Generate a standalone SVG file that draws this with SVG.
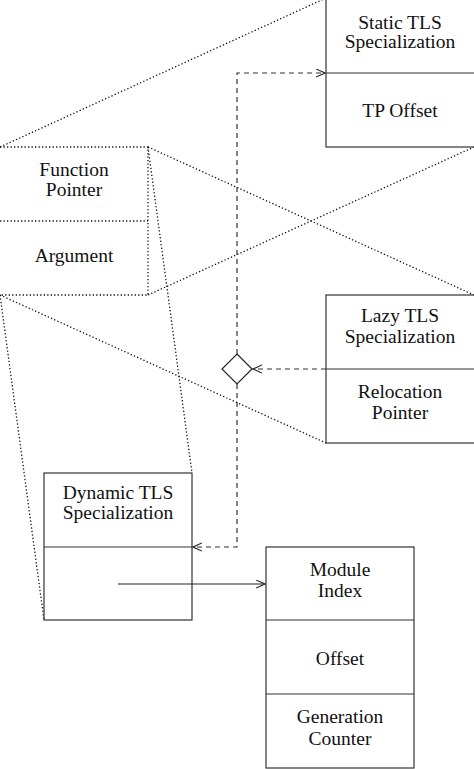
<svg xmlns="http://www.w3.org/2000/svg" width="474" height="769" viewBox="0 0 474 769">
<style>
  .box { fill: none; stroke: #333; stroke-width: 1.2; }
  .dot { fill: none; stroke: #111; stroke-width: 1.3; stroke-dasharray: 1.3 2.2; }
  .dash { fill: none; stroke: #333; stroke-width: 1.2; stroke-dasharray: 5 4; }
  .solid { fill: none; stroke: #222; stroke-width: 1.2; }
  text { font-family: "Liberation Serif", "Times New Roman", serif; font-size: 19.5px; fill: #111; text-anchor: middle; }
</style>
<defs>
  <marker id="arr" markerUnits="userSpaceOnUse" markerWidth="10" markerHeight="10" refX="9" refY="4.5" orient="auto">
    <path d="M0,0.5 L9,4.5 L0,8.5" fill="none" stroke="#222" stroke-width="1.1"/>
  </marker>
</defs>
<rect width="474" height="769" fill="#fff"/>

<g id="mapping-lines">
  <line class="dot" x1="0" y1="147" x2="326" y2="-2"/>
  <line class="dot" x1="148" y1="147" x2="474" y2="295"/>
  <line class="dot" x1="148" y1="295" x2="474" y2="147"/>
  <line class="dot" x1="0" y1="295" x2="326" y2="443"/>
  <line class="dot" x1="148" y1="147" x2="192" y2="473"/>
  <line class="dot" x1="0" y1="295" x2="44" y2="620"/>
</g>

<g id="function-node">
  <path class="dot" d="M0,147 H148 V295 H0 M0,221 H148"/>
  <text x="74" y="176">Function</text>
  <text x="74" y="196">Pointer</text>
  <text x="74" y="262">Argument</text>
</g>

<g id="static-tls">
  <rect class="box" x="326" y="-10" width="150" height="157"/>
  <line class="box" x1="326" y1="73" x2="476" y2="73"/>
  <text x="400" y="29">Static TLS</text>
  <text x="400" y="48">Specialization</text>
  <text x="400" y="117">TP Offset</text>
</g>

<g id="lazy-tls">
  <rect class="box" x="326" y="295" width="150" height="148"/>
  <line class="box" x1="326" y1="369" x2="476" y2="369"/>
  <text x="400" y="322">Lazy TLS</text>
  <text x="400" y="343">Specialization</text>
  <text x="400" y="398">Relocation</text>
  <text x="400" y="419">Pointer</text>
</g>

<g id="dynamic-tls">
  <rect class="box" x="44" y="473" width="148" height="147"/>
  <line class="box" x1="44" y1="547" x2="192" y2="547"/>
  <text x="118" y="499">Dynamic TLS</text>
  <text x="118" y="519">Specialization</text>
</g>

<g id="module">
  <rect class="box" x="266" y="547" width="148" height="221"/>
  <line class="box" x1="266" y1="620" x2="414" y2="620"/>
  <line class="box" x1="266" y1="694" x2="414" y2="694"/>
  <text x="340" y="576">Module</text>
  <text x="340" y="597">Index</text>
  <text x="340" y="665">Offset</text>
  <text x="340" y="723">Generation</text>
  <text x="340" y="745">Counter</text>
</g>

<g id="choice">
  <path class="solid" d="M237,354 L252,369 L237,384 L222,369 Z" fill="#fff"/>
</g>

<g id="connectors">
  <line class="dash" x1="326" y1="369" x2="253" y2="369" marker-end="url(#arr)"/>
  <path class="dash" d="M237,354 V73 H325" marker-end="url(#arr)"/>
  <path class="dash" d="M237,384 V547 H193" marker-end="url(#arr)"/>
  <line class="solid" x1="118" y1="584" x2="265" y2="584" marker-end="url(#arr)"/>
</g>
</svg>
